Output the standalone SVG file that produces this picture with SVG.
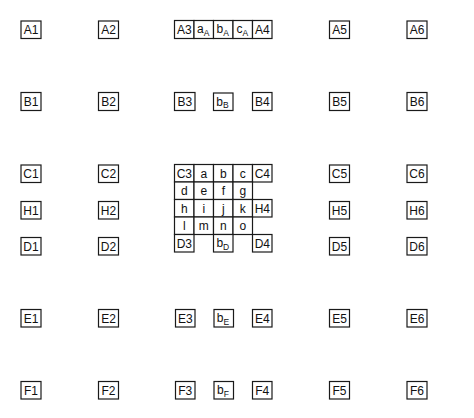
<svg xmlns="http://www.w3.org/2000/svg" width="474" height="418" viewBox="0 0 474 418">
<style>
rect{fill:#fff;stroke:#1a1a1a;stroke-width:1.2}
text{font-family:"Liberation Sans",Arial,sans-serif;font-size:12px;text-anchor:middle;fill:#111}
tspan.s{font-size:8.5px}
</style>
<rect x="0" y="0" width="474" height="418" style="stroke:none"/>
<g id="side-A">
<g id="A1"><rect x="21" y="21" width="20" height="17.5"/><text x="31" y="34.2">A1</text></g>
<g id="A2"><rect x="98.5" y="21" width="20" height="17.5"/><text x="108.5" y="34.2">A2</text></g>
<g id="A5"><rect x="329.5" y="21" width="20" height="17.5"/><text x="339.5" y="34.2">A5</text></g>
<g id="A6"><rect x="407" y="21" width="20" height="17.5"/><text x="417" y="34.2">A6</text></g>
</g>
<g id="row-A-middle">
<g id="A3"><rect x="174.5" y="20.5" width="19.5" height="18"/><text x="184.3" y="34">A3</text></g>
<g id="aA"><rect x="194" y="20.5" width="19.5" height="18"/><text x="203.3" y="33.3">a<tspan class="s" dy="2.5">A</tspan></text></g>
<g id="bA"><rect x="213.5" y="20.5" width="19.5" height="18"/><text x="222.8" y="33.3">b<tspan class="s" dy="2.5">A</tspan></text></g>
<g id="cA"><rect x="233" y="20.5" width="19.5" height="18"/><text x="242.3" y="33.3">c<tspan class="s" dy="2.5">A</tspan></text></g>
<g id="A4"><rect x="252.5" y="20.5" width="19.5" height="18"/><text x="262.3" y="34">A4</text></g>
</g>
<g id="row-B">
<g id="B1"><rect x="21" y="92.5" width="20" height="18"/><text x="31" y="106">B1</text></g>
<g id="B2"><rect x="98.5" y="92.5" width="20" height="18"/><text x="108.5" y="106">B2</text></g>
<g id="B3"><rect x="174.5" y="92.5" width="20.5" height="18"/><text x="184.8" y="106">B3</text></g>
<g id="bB"><rect x="213.5" y="93" width="19.5" height="17.5"/><text x="222.5" y="105.5">b<tspan class="s" dy="2.5">B</tspan></text></g>
<g id="B4"><rect x="252.5" y="92.5" width="19.5" height="18"/><text x="262.3" y="106">B4</text></g>
<g id="B5"><rect x="329.5" y="92.5" width="20" height="18"/><text x="339.5" y="106">B5</text></g>
<g id="B6"><rect x="407" y="92.5" width="20" height="18"/><text x="417" y="106">B6</text></g>
</g>
<g id="side-CHD">
<g id="C1"><rect x="21" y="165" width="20" height="17.5"/><text x="31" y="178.2">C1</text></g>
<g id="C2"><rect x="98.5" y="165" width="20" height="17.5"/><text x="108.5" y="178.2">C2</text></g>
<g id="C5"><rect x="329.5" y="165" width="20" height="17.5"/><text x="339.5" y="178.2">C5</text></g>
<g id="C6"><rect x="407" y="165" width="20" height="17.5"/><text x="417" y="178.2">C6</text></g>
<g id="H1"><rect x="21" y="201.5" width="20" height="17.5"/><text x="31" y="214.7">H1</text></g>
<g id="H2"><rect x="98.5" y="201.5" width="20" height="17.5"/><text x="108.5" y="214.7">H2</text></g>
<g id="H5"><rect x="329.5" y="201.5" width="20" height="17.5"/><text x="339.5" y="214.7">H5</text></g>
<g id="H6"><rect x="407" y="201.5" width="20" height="17.5"/><text x="417" y="214.7">H6</text></g>
<g id="D1"><rect x="21" y="237.5" width="20" height="17.5"/><text x="31" y="250.7">D1</text></g>
<g id="D2"><rect x="98.5" y="237.5" width="20" height="17.5"/><text x="108.5" y="250.7">D2</text></g>
<g id="D5"><rect x="329.5" y="237.5" width="20" height="17.5"/><text x="339.5" y="250.7">D5</text></g>
<g id="D6"><rect x="407" y="237.5" width="20" height="17.5"/><text x="417" y="250.7">D6</text></g>
</g>
<g id="grid">
<g id="C3"><rect x="174.5" y="164.5" width="19.5" height="17.5"/><text x="184.3" y="177.7">C3</text></g>
<g id="a"><rect x="194" y="164.5" width="19.5" height="17.5"/><text x="203.8" y="177.7">a</text></g>
<g id="b"><rect x="213.5" y="164.5" width="19.5" height="17.5"/><text x="223.3" y="177.7">b</text></g>
<g id="c"><rect x="233" y="164.5" width="19.5" height="17.5"/><text x="242.8" y="177.7">c</text></g>
<g id="C4"><rect x="252.5" y="164.5" width="19.5" height="17.5"/><text x="262.3" y="177.7">C4</text></g>
<g id="d"><rect x="174.5" y="182" width="19.5" height="17.5"/><text x="184.3" y="195.2">d</text></g>
<g id="e"><rect x="194" y="182" width="19.5" height="17.5"/><text x="203.8" y="195.2">e</text></g>
<g id="f"><rect x="213.5" y="182" width="19.5" height="17.5"/><text x="223.3" y="195.2">f</text></g>
<g id="g"><rect x="233" y="182" width="19.5" height="17.5"/><text x="242.8" y="195.2">g</text></g>
<g id="h"><rect x="174.5" y="199.5" width="19.5" height="17.5"/><text x="184.3" y="212.7">h</text></g>
<g id="i"><rect x="194" y="199.5" width="19.5" height="17.5"/><text x="203.8" y="212.7">i</text></g>
<g id="j"><rect x="213.5" y="199.5" width="19.5" height="17.5"/><text x="223.3" y="212.7">j</text></g>
<g id="k"><rect x="233" y="199.5" width="19.5" height="17.5"/><text x="242.8" y="212.7">k</text></g>
<g id="H4"><rect x="252.5" y="199.5" width="19.5" height="17.5"/><text x="262.3" y="212.7">H4</text></g>
<g id="l"><rect x="174.5" y="217" width="19.5" height="17.5"/><text x="184.3" y="230.2">l</text></g>
<g id="m"><rect x="194" y="217" width="19.5" height="17.5"/><text x="203.8" y="230.2">m</text></g>
<g id="n"><rect x="213.5" y="217" width="19.5" height="17.5"/><text x="223.3" y="230.2">n</text></g>
<g id="o"><rect x="233" y="217" width="19.5" height="17.5"/><text x="242.8" y="230.2">o</text></g>
<g id="D3"><rect x="174.5" y="234.5" width="19.5" height="17.5"/><text x="184.3" y="247.7">D3</text></g>
<g id="bD"><rect x="213.5" y="234.5" width="19.5" height="17.5"/><text x="222.8" y="247.2">b<tspan class="s" dy="2.5">D</tspan></text></g>
<g id="D4"><rect x="252.5" y="234.5" width="19.5" height="17.5"/><text x="262.3" y="247.7">D4</text></g>
</g>
<g id="row-E">
<g id="E1"><rect x="21" y="309.5" width="20" height="17.5"/><text x="31" y="322.7">E1</text></g>
<g id="E2"><rect x="98.5" y="309.5" width="20" height="17.5"/><text x="108.5" y="322.7">E2</text></g>
<g id="E3"><rect x="175.5" y="309.5" width="19.5" height="17.5"/><text x="185.3" y="322.7">E3</text></g>
<g id="bE"><rect x="214" y="309.5" width="19.5" height="17.5"/><text x="223" y="322.2">b<tspan class="s" dy="2.5">E</tspan></text></g>
<g id="E4"><rect x="252.5" y="309.5" width="19.5" height="17.5"/><text x="262.3" y="322.7">E4</text></g>
<g id="E5"><rect x="329.5" y="309.5" width="20" height="17.5"/><text x="339.5" y="322.7">E5</text></g>
<g id="E6"><rect x="407" y="309.5" width="20" height="17.5"/><text x="417" y="322.7">E6</text></g>
</g>
<g id="row-F">
<g id="F1"><rect x="21" y="381.5" width="20" height="17.5"/><text x="31" y="394.7">F1</text></g>
<g id="F2"><rect x="98.5" y="381.5" width="20" height="17.5"/><text x="108.5" y="394.7">F2</text></g>
<g id="F3"><rect x="175.5" y="381.5" width="19.5" height="17.5"/><text x="185.3" y="394.7">F3</text></g>
<g id="bF"><rect x="214" y="381.5" width="19.5" height="17.5"/><text x="223" y="394.2">b<tspan class="s" dy="2.5">F</tspan></text></g>
<g id="F4"><rect x="252.5" y="381.5" width="19.5" height="17.5"/><text x="262.3" y="394.7">F4</text></g>
<g id="F5"><rect x="329.5" y="381.5" width="20" height="17.5"/><text x="339.5" y="394.7">F5</text></g>
<g id="F6"><rect x="407" y="381.5" width="20" height="17.5"/><text x="417" y="394.7">F6</text></g>
</g>
<g id="connectors"/>
</svg>
